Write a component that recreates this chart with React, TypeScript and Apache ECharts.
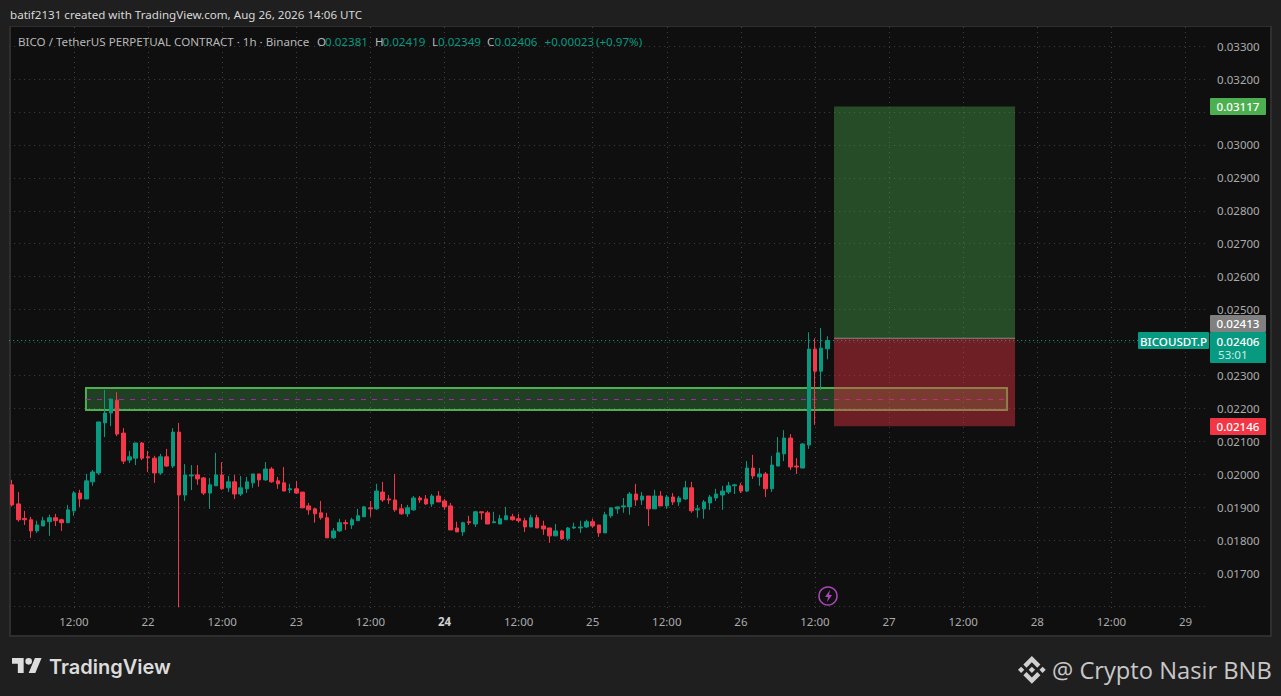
import React, { useEffect, useRef } from "react";
import * as echarts from "echarts";

const opens = [.01968,.01910,.01866,.01862,.01828,.01843,.01856,.01868,.01862,.01853,.01889,.01943,.01925,.01977,.02004,.02156,.02186,.02225,.02125,.02043,.02049,.02095,.02053,.02049,.02004,.02053,.02025,.02128,.01937,.01995,.01998,.01989,.01943,.01965,
.01998,.01959,.01977,.01940,.01956,.01974,.02001,.01983,.02016,.01980,.01974,.01953,.01956,.01946,.01904,.01895,.01883,.01868,.01807,.01828,.01853,.01846,.01859,.01871,.01898,.01895,.01946,.01925,.01922,.01895,.01880,.01892,.01928,.01925,
.01910,.01934,.01919,.01904,.01837,.01825,.01856,.01849,.01886,.01883,.01853,.01849,.01862,.01871,.01865,.01859,.01840,.01868,.01843,.01837,.01813,.01828,.01804,.01837,.01837,.01840,.01856,.01846,.01822,.01874,.01895,.01901,.01901,.01940,
.01922,.01934,.01895,.01934,.01904,.01931,.01916,.01925,.01959,.01892,.01895,.01913,.01928,.01937,.01946,.01965,.01965,.01949,.02019,.01992,.02001,.01956,.02025,.02062,.02110,.02025,.02019,.02089,.02380,.02313,.02381];
const closes = [.01907,.01862,.01862,.01828,.01846,.01859,.01868,.01859,.01853,.01892,.01943,.01925,.01980,.02007,.02159,.02186,.02228,.02122,.02040,.02053,.02095,.02049,.02050,.02004,.02053,.02025,.02128,.01937,.01998,.01998,.01986,.01943,.01968,.01998,
.01956,.01977,.01940,.01959,.01977,.02001,.01983,.02016,.01977,.01971,.01949,.01956,.01943,.01898,.01892,.01880,.01868,.01807,.01828,.01853,.01850,.01862,.01874,.01901,.01895,.01949,.01922,.01922,.01892,.01880,.01898,.01928,.01922,.01910,
.01934,.01916,.01901,.01831,.01825,.01853,.01853,.01886,.01883,.01849,.01856,.01865,.01874,.01862,.01859,.01840,.01868,.01837,.01834,.01813,.01828,.01804,.01837,.01840,.01840,.01856,.01843,.01822,.01877,.01898,.01901,.01904,.01940,.01922,
.01934,.01895,.01934,.01904,.01931,.01916,.01928,.01959,.01889,.01895,.01916,.01931,.01940,.01949,.01965,.01968,.01949,.02019,.01995,.02001,.01956,.02028,.02065,.02110,.02022,.02022,.02092,.02380,.02313,.02383,.02406];
const lows = [.01902,.01856,.01846,.01807,.01822,.01843,.01813,.01843,.01828,.01853,.01874,.01901,.01925,.01965,.01998,.02113,.02146,.02116,.02031,.02034,.02028,.02043,.02007,.01974,.01998,.02022,.02019,.01596,.01919,.01952,.01968,.01937,.01895,.01965,
.01953,.01946,.01925,.01934,.01943,.01959,.01962,.01980,.01974,.01956,.01949,.01943,.01940,.01898,.01877,.01853,.01862,.01807,.01804,.01825,.01831,.01834,.01859,.01871,.01871,.01892,.01916,.01910,.01886,.01877,.01871,.01889,.01913,.01907,
.01901,.01916,.01892,.01831,.01825,.01813,.01846,.01840,.01862,.01849,.01853,.01849,.01862,.01859,.01853,.01825,.01840,.01837,.01816,.01792,.01813,.01801,.01798,.01834,.01822,.01837,.01837,.01810,.01822,.01868,.01880,.01883,.01877,.01904,
.01907,.01843,.01895,.01904,.01895,.01907,.01904,.01922,.01883,.01868,.01865,.01892,.01919,.01892,.01940,.01940,.01943,.01946,.01986,.01965,.01931,.01946,.02025,.02040,.02013,.02001,.02019,.02077,.02150,.02256,.02349];
const highs = [.01983,.01946,.01889,.01871,.01859,.01871,.01877,.01880,.01865,.01907,.01949,.01953,.02001,.02013,.02159,.02256,.02231,.02249,.02140,.02071,.02095,.02098,.02071,.02056,.02062,.02077,.02140,.02156,.02031,.02028,.02028,.01992,.01989,.02065,
.02037,.01995,.01998,.01995,.01992,.02001,.02001,.02037,.02022,.01992,.02022,.01971,.01980,.01946,.01913,.01898,.01919,.01883,.01837,.01865,.01862,.01868,.01895,.01904,.01919,.01971,.01977,.01937,.02001,.01910,.01907,.01934,.01934,.01937,
.01940,.01949,.01925,.01913,.01856,.01856,.01874,.01889,.01886,.01889,.01886,.01877,.01901,.01880,.01880,.01868,.01877,.01877,.01859,.01837,.01849,.01831,.01840,.01853,.01859,.01862,.01865,.01846,.01886,.01898,.01901,.01928,.01946,.01971,
.01946,.01934,.01953,.01949,.01937,.01943,.01934,.01980,.01977,.01907,.01922,.01937,.01956,.01965,.01977,.01971,.01974,.02040,.02059,.02019,.02007,.02056,.02113,.02134,.02122,.02049,.02095,.02431,.02413,.02444,.02419];

const HOURS_ON_AXIS = 194;
const FIRST_DAY = 21;
const FIRST_HOUR = 2;
const categories: string[] = [];
for (let i = 0; i < HOURS_ON_AXIS; i++) {
  const h = FIRST_HOUR + i;
  categories.push(`${FIRST_DAY + Math.floor(h / 24)} ${h % 24}`);
}
const priceTicks = [.033,.032,.031,.03,.029,.028,.027,.026,.025,.024,.023,.022,.021,.02,.019,.018,.017,.016];
const priceLabels = [.033,.032,.03,.029,.028,.027,.026,.025,.023,.022,.021,.02,.019,.018,.017];
const lastPrice = 0.02406;
const entryPrice = 0.02413;
const targetPrice = 0.03117;
const stopPrice = 0.02146;
const zoneMidPrice = 0.02227;
const zoneFrom = 11.94;
const zoneTo = 161.1;
const posFrom = 133.08;
const posTo = 162.4;
// [from, to, top, bottom]: horizontal values are hours on the hidden overlay axis
const zoneBox = [[zoneFrom, zoneTo, 0.02262, 0.02195]];
const zoneMid = [[zoneFrom, zoneMidPrice], [zoneTo, zoneMidPrice]];
const targetBox = [[posFrom, posTo, targetPrice, entryPrice]];
const stopBox = [[posFrom, posTo, entryPrice, stopPrice]];
const entryLine = [[posFrom, entryPrice], [posTo, entryPrice]];
const lastLine = [[-0.5, lastPrice], [193.5, lastPrice]];

const UP = "#089981";
const DOWN = "#F7364A";
const FONT = '"Noto Sans"';
const AXIS_TEXT = "#ababab";
const GRID_COLOR = "#414141";

const tvLogo = "M14 22H7V11H0V4h14v18zM28 22h-8l7.5-18h8L28 22zM24 8a4 4 0 1 1-8 0 4 4 0 0 1 8 0z";
const binanceLogo = "M38.73 53.2l24.59-24.58 24.6 24.6 14.3-14.31L63.32 0 24.43 38.9zM0 63.31l14.3-14.31 14.31 14.31-14.31 14.3zM38.73 73.41l24.59 24.59 24.6-24.6 14.31 14.29-38.9 38.91-38.9-38.88-.02-.02zM98 63.31l14.3-14.31 14.31 14.3-14.31 14.31zM77.83 63.3L63.32 48.78 52.59 59.51l-1.24 1.23-2.54 2.54 14.51 14.5 14.5-14.49z";
const bolt = "M6 0L1 7h3L3 12l5-7H5z";

function boxSeries(name: string, data: number[][], fill: string, stroke: string, lineWidth: number, z: number) {
  return {
    name, type: "custom", xAxisIndex: 1, yAxisIndex: 0, z, silent: true, clip: true,
    encode: { x: [0, 1], y: [2, 3] }, data,
    renderItem: (_: any, api: any) => {
      const a = api.coord([api.value(0), api.value(2)]);
      const b = api.coord([api.value(1), api.value(3)]);
      return { type: "rect", shape: { x: a[0], y: a[1], width: b[0] - a[0], height: b[1] - a[1] }, style: { fill, stroke, lineWidth } };
    },
  };
}
function lineSeries(name: string, data: number[][], color: string, type: any, dashOffset: number, z: number) {
  return {
    name, type: "line", xAxisIndex: 1, yAxisIndex: 0, z, silent: true, data,
    symbol: "none", showSymbol: false,
    lineStyle: { color, width: 1, type, dashOffset },
  };
}

function txt(text: string, x: number, y: number, fill: string, fontSize = 11.6, extra: any = {}) {
  return {
    type: "text", x, y, z: 120,
    style: { text, fill, fontSize, fontFamily: FONT, verticalAlign: "middle", ...extra },
  };
}
function tagText(text: string, x: number, y: number) {
  return txt(text, x, y, "#ffffff", 11.6, { align: "center", fontWeight: 500 });
}
function tag(x: number, y: number, width: number, height: number, fill: string) {
  return { type: "rect", x, y, z: 110, shape: { x: 0, y: 0, width, height, r: 1 }, style: { fill } };
}

export default function App() {
  const ref = useRef<HTMLDivElement>(null);
  useEffect(() => {
    document.body.style.margin = "0";
    document.body.style.overflow = "hidden";
    echarts.graphic.registerShape("tvlogo", echarts.graphic.extendPath(tvLogo, {}) as any);
    echarts.graphic.registerShape("bnblogo", echarts.graphic.extendPath(binanceLogo, {}) as any);
    echarts.graphic.registerShape("boltlogo", echarts.graphic.extendPath(bolt, {}) as any);
    const chart = echarts.init(ref.current!, undefined, { renderer: "svg" });
    const onGrid = (_: number, v: string) => /\s(0|12)$/.test(v);
    chart.setOption({
      animation: false,
      backgroundColor: "#1f1f1f",
      textStyle: { fontFamily: FONT },
      grid: { left: 9.16, top: 27, width: 1197.95, height: 581, containLabel: false },
      tooltip: { show: false },
      xAxis: [
        {
          type: "category", data: categories, boundaryGap: true, position: "bottom",
          axisLine: { show: false },
          axisTick: { show: false, alignWithLabel: true, interval: onGrid },
          splitLine: {
            show: true, alignWithLabel: true, interval: onGrid,
            lineStyle: { color: GRID_COLOR, type: [1, 4] as any, width: 1 },
          },
          axisLabel: {
            color: AXIS_TEXT, fontSize: 11.5, fontFamily: FONT, margin: 7, hideOverlap: false,
            interval: onGrid,
            formatter: (v: string) => {
              const [d, h] = v.split(" ");
              if (h === "12") return "12:00";
              return d === "24" ? `{b|${d}}` : d;
            },
            rich: { b: { fontWeight: "bold", color: "#d0d0d0", fontSize: 11.5, fontFamily: FONT } },
          },
        },
        { type: "value", min: -0.5, max: 193.5, show: false, position: "bottom", splitLine: { show: false } },
      ],
      yAxis: {
        type: "value", position: "right", min: 0.01594, max: 0.03358, scale: true,
        axisLine: { show: false },
        axisTick: { show: false, customValues: priceTicks },
        splitLine: { show: true, lineStyle: { color: GRID_COLOR, type: [1, 4] as any, dashOffset: 0.16, width: 1 } },
        axisLabel: {
          color: AXIS_TEXT, fontSize: 11.5, fontFamily: FONT, margin: 10, customValues: priceLabels,
          padding: [0, 0, 2, 0],
          formatter: (v: number) => v.toFixed(5),
        },
      },
      series: [
        boxSeries("Zone", zoneBox, "rgba(76,175,80,0.3)", "#4CAF50", 2, 1),
        lineSeries("ZoneMid", zoneMid, "#9C27B0", [5, 6], 0, 2),
        lineSeries("Last", lastLine, "#0BB093", [1, 3], 0.16, 2),
        {
          name: "BICOUSDT.P", type: "candlestick", xAxisIndex: 0, yAxisIndex: 0, z: 3, barWidth: 4, silent: true,
          data: opens.map((o, i) => [o, closes[i], lows[i], highs[i]]),
          itemStyle: { color: UP, color0: DOWN, borderColor: UP, borderColor0: DOWN, borderWidth: 1 },
        },
        boxSeries("Target", targetBox, "rgba(76,175,80,0.38)", "none", 0, 4),
        boxSeries("Stop", stopBox, "rgba(242,54,69,0.42)", "none", 0, 4),
        lineSeries("Entry", entryLine, "#888888", "solid", 0, 5),
      ],
      graphic: [
        { type: "rect", z: -10, shape: { x: 9, y: 26, width: 1263, height: 611 }, style: { fill: "#2e2e2e" } },
        { type: "rect", z: -9, shape: { x: 11, y: 27, width: 1259, height: 608 }, style: { fill: "#0f0f0f" } },
        txt("batif2131 created with TradingView.com, Aug 26, 2026 14:06 UTC", 10, 14.5, "#d8d8d8"),
        txt("BICO / TetherUS PERPETUAL CONTRACT · 1h · Binance", 18, 41.5, "#b8b8b8"),
        txt("O", 317, 41.5, "#b8b8b8"), txt("0.02381", 325, 41.5, UP),
        txt("H", 375, 41.5, "#b8b8b8"), txt("0.02419", 382.5, 41.5, UP),
        txt("L", 432, 41.5, "#b8b8b8"), txt("0.02349", 438, 41.5, UP),
        txt("C", 487, 41.5, "#b8b8b8"), txt("0.02406", 494.5, 41.5, UP),
        txt("+0.00023", 544.5, 41.5, UP), txt("(+0.97%)", 596, 41.5, UP),
        tag(1210, 98, 56, 17, "#4CAF50"),
        tagText("0.03117", 1238, 106.5),
        tag(1210, 315, 56, 17, "#808080"),
        tagText("0.02413", 1238, 323.5),
        tag(1210, 332, 56, 31, UP),
        tagText("0.02406", 1238, 341),
        txt("53:01", 1218, 354.5, "#c8ebe4", 11.6),
        tag(1138, 332, 71, 17, UP),
        tagText("BICOUSDT.P", 1173.5, 341),
        tag(1210, 418, 56, 17, "#F23645"),
        tagText("0.02146", 1238, 426.5),
        { type: "circle", z: 100, shape: { cx: 828, cy: 596, r: 9 }, style: { fill: "none", stroke: "#AB47BC", lineWidth: 1.5 } },
        { type: "boltlogo", z: 100, x: 824, y: 590, style: { fill: "#AB47BC" } },
        { type: "tvlogo", z: 100, x: 12, y: 654.7, scaleX: 0.833, scaleY: 0.833, style: { fill: "#dcdcdc" } },
        { type: "text", z: 100, x: 49, y: 666.5, style: { text: "TradingView", fill: "#dcdcdc", fontSize: 20, fontWeight: 600, fontFamily: "Inter", verticalAlign: "middle" } },
        { type: "bnblogo", z: 100, x: 1018, y: 656, scaleX: 0.219, scaleY: 0.219, style: { fill: "#d0d0d0" } },
        { type: "text", z: 100, x: 1052, y: 669.5, style: { text: "@ Crypto Nasir BNB", fill: "#c8c8c8", fontSize: 23.7, fontFamily: '"Open Sans"', verticalAlign: "middle" } },
      ],
    });
    return () => chart.dispose();
  }, []);
  return <div ref={ref} style={{ width: 1281, height: 696 }} />;
}
